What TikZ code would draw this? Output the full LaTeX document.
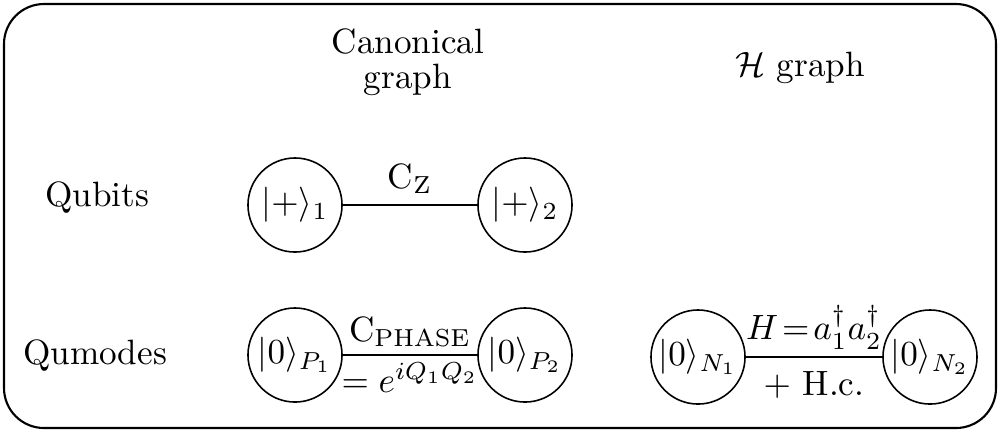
\documentclass[tikz,border=0pt]{standalone}
\usepackage{amsmath}
\begin{document}
\begin{tikzpicture}[x=0.01cm,y=-0.01cm,
  st/.style={circle,draw,line width=0.45pt,minimum size=0.94cm,inner sep=0pt},
  lbl/.style={align=center,inner sep=1pt}]
\useasboundingbox (0,0) rectangle (1000,432);
\draw[line width=0.6pt,rounded corners=0.4cm] (4,4) rectangle (996,428);
\node[lbl] (t1) at (408,62) {Canonical\\[-2pt]graph};
\node[lbl] (t2) at (800,68) {$\mathcal{H}$ graph};
\node[lbl] (r1) at (97,197) {Qubits};
\node[lbl] (r2) at (95,355) {Qumodes};
\node[st] (a) at (295,205) {$|{+}\rangle_1$};
\node[st] (b) at (525,205) {$|{+}\rangle_2$};
\draw[line width=0.45pt] (a) -- node[above,inner sep=3pt] {C$_\text{Z}$} (b);
\node[st] (c) at (295,355) {$|0\rangle_{P_1}$};
\node[st] (d) at (525,355) {$|0\rangle_{P_2}$};
\draw[line width=0.45pt] (c) -- node[above,inner sep=2pt] {C$_\text{PHASE}$} node[below,inner sep=2pt] {$=e^{iQ_1Q_2}$} (d);
\node[st] (e) at (698,357) {$|0\rangle_{N_1}$};
\node[st] (f) at (930,357) {$|0\rangle_{N_2}$};
\draw[line width=0.45pt] (e) -- node[above,inner sep=2pt] {$H\!=\!a_1^\dagger a_2^\dagger$} node[below,inner sep=4pt] {$+$ H.c.} (f);
\end{tikzpicture}
\end{document}
